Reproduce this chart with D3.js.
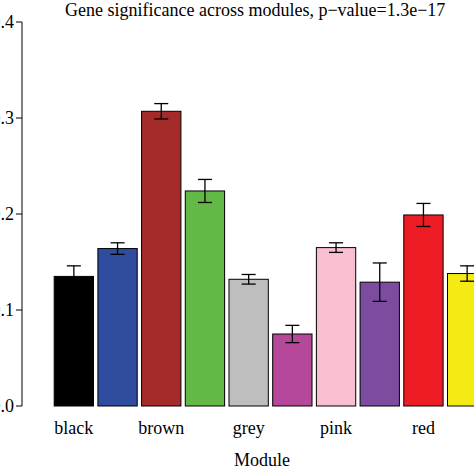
<!DOCTYPE html>
<html><head><meta charset="utf-8">
<script src="https://cdn.jsdelivr.net/npm/d3@7"></script>
<style>body{margin:0;background:#fff}</style></head>
<body><svg id="c" width="474" height="474"></svg>
<script>
const modules = ["black","blue","brown","green","grey","magenta","pink","purple","red","yellow","turquoise"];
const values = [0.135,0.164,0.307,0.224,0.132,0.075,0.165,0.129,0.199,0.138,0.15];
const errors = [0.011,0.006,0.008,0.012,0.005,0.009,0.005,0.020,0.012,0.008,0.01];
const colors = ["#000000","#2f4c9e","#a52a2a","#62b946","#bebebe","#b5489b","#f7bfcf","#7d4ba0","#ee1c25","#f5ea14","#40e0d0"];
const yTicks = [0,0.1,0.2,0.3,0.4];
const labelIdx = [0,2,4,6,8,10];

const svg = d3.select("#c");
const font = "Liberation Serif";
const y = d3.scaleLinear().domain([0,0.4]).range([406,22]);
const x = d3.scaleBand().domain(modules).range([52,52+43.7*11]).paddingInner(0.1).paddingOuter(0.05);

svg.append("line").attr("x1",22).attr("x2",22).attr("y1",y(0)).attr("y2",y(0.4)).attr("stroke","#000");
yTicks.forEach(t=>{
  svg.append("line").attr("x1",16).attr("x2",22).attr("y1",y(t)).attr("y2",y(t)).attr("stroke","#000");
  svg.append("text").attr("x",14).attr("y",y(t)+6).attr("text-anchor","end")
    .attr("font-family",font).attr("font-size",18).text(t.toFixed(1));
});
svg.selectAll("rect.b").data(modules).join("rect").attr("class","b")
  .attr("x",d=>x(d)).attr("width",x.bandwidth())
  .attr("y",(d,i)=>y(values[i])).attr("height",(d,i)=>y(0)-y(values[i]))
  .attr("fill",(d,i)=>colors[i]).attr("stroke","#000");
modules.forEach((m,i)=>{
  const cx = x(m)+x.bandwidth()/2, t=y(values[i]+errors[i]), b=y(values[i]-errors[i]);
  const g = svg.append("g").attr("stroke","#000").attr("stroke-width",1.3);
  g.append("line").attr("x1",cx).attr("x2",cx).attr("y1",t).attr("y2",b);
  g.append("line").attr("x1",cx-7).attr("x2",cx+7).attr("y1",t).attr("y2",t);
  g.append("line").attr("x1",cx-7).attr("x2",cx+7).attr("y1",b).attr("y2",b);
});
labelIdx.forEach(i=>{
  svg.append("text").attr("x",x(modules[i])+x.bandwidth()/2).attr("y",434).attr("text-anchor","middle")
    .attr("font-family",font).attr("font-size",18).text(modules[i]);
});
svg.append("text").attr("x",262).attr("y",466).attr("text-anchor","middle")
  .attr("font-family",font).attr("font-size",18).text("Module");
svg.append("text").attr("x",65).attr("y",16)
  .attr("font-family",font).attr("font-size",18).text("Gene significance across modules, p\u2212value=1.3e\u221217");
</script></body></html>
